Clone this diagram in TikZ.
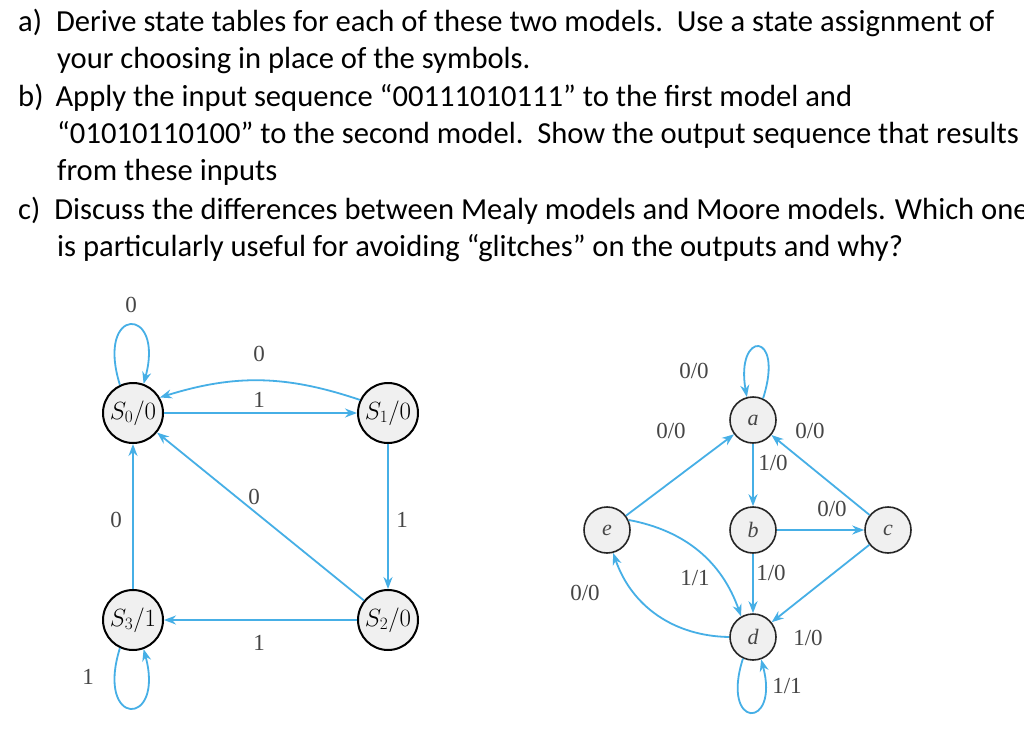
\documentclass[tikz,border=0pt]{standalone}
\usepackage{fontspec}
\setmainfont{Carlito}
\newfontfamily\labfont{Liberation Serif}
\usetikzlibrary{arrows.meta}
\definecolor{arr}{RGB}{70,175,230}
\definecolor{lab}{RGB}{70,70,70}
\begin{document}
\begin{tikzpicture}[x=1pt,y=1pt,
 txt/.style={anchor=base west,inner sep=0pt,font=\fontsize{30.6}{36}\selectfont},
 st/.style={circle,draw=black,line width=2pt,fill=gray!12,minimum size=60pt,inner sep=0pt,font=\fontsize{27}{28}\selectfont},
 sm/.style={circle,draw=black!85,line width=1.6pt,fill=gray!12,minimum size=46pt,inner sep=0pt,font=\labfont\itshape\fontsize{22}{22}\selectfont,text=lab},
 ed/.style={draw=arr,line width=1.8pt,-{Stealth[length=12pt,width=9pt]}},
 lb/.style={font=\labfont\fontsize{23}{24}\selectfont,text=lab,inner sep=0pt}]
\useasboundingbox (0,0) rectangle (1024,-735);
\fill[white] (0,0) rectangle (1024,-735);
\node[txt] (l1) at (18,-32) {a)\hspace{14pt}Derive state tables for each of these two models.\ \ Use a state assignment of};
\node[txt] (l2) at (57,-69) {your choosing in place of the symbols.};
\node[txt] (l3) at (18,-107) {b)\hspace{12pt}Apply the input sequence “00111010111” to the first model and};
\node[txt] (l4) at (57,-144) {“01010110100” to the second model.\ \ Show the output sequence that results};
\node[txt] (l5) at (57,-181) {from these inputs};
\node[txt] (l6) at (18,-219) {c)\hspace{14pt}Discuss the differences between Mealy models and Moore models. Which one};
\node[txt] (l7) at (57,-256) {is particularly useful for avoiding “glitches” on the outputs and why?};
% left model
\node[st] (s0) at (133,-413) {$S_0/0$};
\node[st] (s1) at (388,-413) {$S_1/0$};
\node[st] (s2) at (388,-620) {$S_2/0$};
\node[st] (s3) at (133,-620) {$S_3/1$};
\draw[ed] (s0.115) .. controls (95,-305) and (165,-305) .. (s0.70);
\draw[ed] (s1.155) to[bend right=18] (s0.30);
\draw[ed] (s0) -- (s1);
\draw[ed] (s1) -- (s2);
\draw[ed] (s2) -- (s0);
\draw[ed] (s2) -- (s3);
\draw[ed] (s3) -- (s0);
\draw[ed] (s3.-115) .. controls (95,-728) and (165,-728) .. (s3.-70);
\node[lb] (q1) at (131,-305) {0};
\node[lb] (q2) at (259,-354) {0};
\node[lb] (q3) at (259,-400) {1};
\node[lb] (q4) at (254,-497) {0};
\node[lb] (q5) at (116,-520) {0};
\node[lb] (q6) at (402,-520) {1};
\node[lb] (q7) at (259,-643) {1};
\node[lb] (q8) at (88,-677) {1};
% right model
\node[sm] (a) at (753,-420) {a};
\node[sm] (b) at (753,-530) {b};
\node[sm] (c) at (888,-530) {c};
\node[sm] (e) at (607,-530) {e};
\node[sm] (d) at (753,-637) {d};
\draw[ed] (a.65) .. controls (785,-330) and (735,-330) .. (a.105);
\draw[ed] (e) -- (a);
\draw[ed] (c) -- (a);
\draw[ed] (a) -- (b);
\draw[ed] (b) -- (c);
\draw[ed] (b) -- (d);
\draw[ed] (c) -- (d);
\draw[ed] (e.25) to[bend left=30] (d.120);
\draw[ed] (d.180) to[bend left=35] (e.-75);
\draw[ed] (d.-115) .. controls (720,-730) and (780,-730) .. (d.-70);
\node[lb] (r1) at (694,-371) {0/0};
\node[lb] (r2) at (671,-431) {0/0};
\node[lb] (r3) at (810,-431) {0/0};
\node[lb] (r4) at (773,-463) {1/0};
\node[lb] (r5) at (832,-509) {0/0};
\node[lb] (r6) at (695,-578) {1/1};
\node[lb] (r7) at (771,-573) {1/0};
\node[lb] (r8) at (585,-593) {0/0};
\node[lb] (r9) at (808,-638) {1/0};
\node[lb] (r10) at (787,-686) {1/1};
\end{tikzpicture}
\end{document}
